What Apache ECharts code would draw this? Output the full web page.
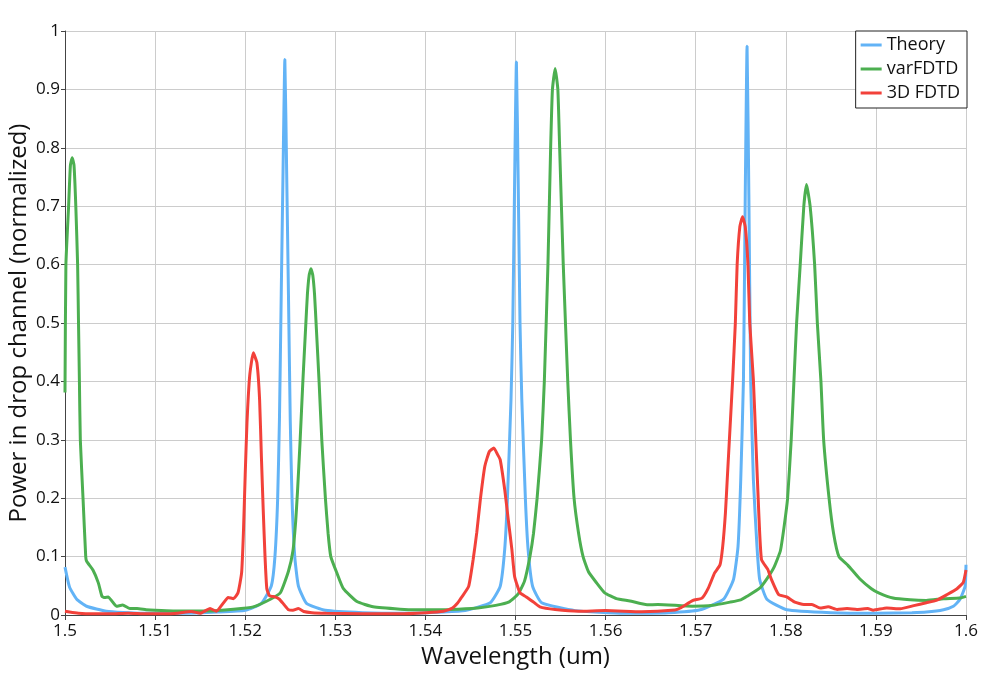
<!DOCTYPE html>
<html>
<head>
<meta charset="utf-8">
<script src="https://cdn.jsdelivr.net/npm/echarts@6/dist/echarts.min.js"></script>
<style>
html, body { margin: 0; padding: 0; background: #fff; }
#main { width: 985px; height: 675px; }
</style>
</head>
<body>
<div id="main"></div>
<script>
// 图例名称
var seriesNames = ['Theory', 'varFDTD', '3D FDTD'];

// 波长范围 (um)
var xMin = 1.5, xMax = 1.6, xStep = 0.01;
var yMin = 0, yMax = 1, yStep = 0.1;

// Theory: [wavelength, power]
var theoryData = [
    [1.5000, 0.082], [1.5005, 0.048], [1.5013, 0.027], [1.5024, 0.015], [1.5046, 0.0065],
    [1.5083, 0.003], [1.5130, 0.003], [1.5170, 0.005], [1.5200, 0.008], [1.5218, 0.020],
    [1.5229, 0.050], [1.5233, 0.100], [1.5236, 0.198], [1.5238, 0.334], [1.5240, 0.550],
    [1.5242, 0.760], [1.5244, 0.951], [1.5246, 0.760], [1.5248, 0.550], [1.5250, 0.334],
    [1.5252, 0.198], [1.5255, 0.100], [1.5259, 0.050], [1.5268, 0.020], [1.5289, 0.008],
    [1.5330, 0.004], [1.5380, 0.003], [1.5420, 0.005], [1.5444, 0.0075], [1.5472, 0.021],
    [1.5483, 0.049], [1.5488, 0.112], [1.5491, 0.198], [1.5495, 0.369], [1.5497, 0.500],
    [1.5499, 0.740], [1.5501, 0.947], [1.5503, 0.740], [1.5505, 0.500], [1.5507, 0.369],
    [1.5511, 0.198], [1.5514, 0.112], [1.5519, 0.049], [1.5529, 0.021], [1.5566, 0.0075],
    [1.5620, 0.003], [1.5670, 0.004], [1.5705, 0.009], [1.5731, 0.027], [1.5742, 0.061],
    [1.5747, 0.118], [1.5750, 0.232], [1.5753, 0.403], [1.5755, 0.720], [1.5757, 0.974],
    [1.5759, 0.720], [1.5761, 0.403], [1.5764, 0.232], [1.5768, 0.118], [1.5771, 0.061],
    [1.5779, 0.027], [1.5801, 0.009], [1.5850, 0.004], [1.5900, 0.003], [1.5940, 0.004],
    [1.5956, 0.005], [1.5975, 0.009], [1.5986, 0.015], [1.5993, 0.026], [1.5999, 0.049],
    [1.6000, 0.086]
];

// varFDTD
var varFdtdData = [
    [1.5000, 0.381], [1.5001, 0.600], [1.5004, 0.700], [1.5006, 0.770], [1.5008, 0.783],
    [1.5010, 0.770], [1.5012, 0.700], [1.5014, 0.600], [1.5015, 0.500], [1.5016, 0.400],
    [1.5017, 0.300], [1.5020, 0.200], [1.5023, 0.100], [1.5024, 0.092], [1.5031, 0.077],
    [1.5037, 0.055], [1.5041, 0.032], [1.5044, 0.030], [1.5048, 0.031], [1.5052, 0.024],
    [1.5057, 0.015], [1.5064, 0.017], [1.5072, 0.011], [1.5080, 0.011], [1.5090, 0.009],
    [1.5100, 0.008], [1.5120, 0.007], [1.5140, 0.007], [1.5160, 0.007], [1.5187, 0.010],
    [1.5209, 0.014], [1.5228, 0.027], [1.5239, 0.038], [1.5248, 0.075], [1.5253, 0.110],
    [1.5256, 0.160], [1.5258, 0.210], [1.5261, 0.300], [1.5264, 0.400], [1.5267, 0.490],
    [1.5269, 0.548], [1.5271, 0.582], [1.5273, 0.593], [1.5275, 0.582], [1.5277, 0.548],
    [1.5279, 0.490], [1.5282, 0.400], [1.5285, 0.300], [1.5289, 0.200], [1.5292, 0.140],
    [1.5295, 0.100], [1.5302, 0.071], [1.5309, 0.045], [1.5324, 0.023],
    [1.5342, 0.014], [1.5372, 0.010], [1.5390, 0.009], [1.5428, 0.0095], [1.5458, 0.012],
    [1.5478, 0.0165], [1.5493, 0.0225], [1.5503, 0.036], [1.5510, 0.058], [1.5516, 0.100],
    [1.5520, 0.140], [1.5524, 0.200], [1.5529, 0.300], [1.5532, 0.400], [1.5536, 0.600],
    [1.5539, 0.800], [1.5541, 0.900], [1.5544, 0.936], [1.5547, 0.900], [1.5549, 0.800],
    [1.5553, 0.600], [1.5558, 0.400], [1.5561, 0.300], [1.5565, 0.200], [1.5570, 0.140],
    [1.5575, 0.100], [1.5581, 0.074],
    [1.5590, 0.055], [1.5599, 0.038], [1.5612, 0.028], [1.5627, 0.024], [1.5646, 0.0175],
    [1.5658, 0.018], [1.5696, 0.015], [1.5719, 0.0165], [1.5738, 0.022], [1.5750, 0.026],
    [1.5757, 0.032], [1.5771, 0.046], [1.5779, 0.062], [1.5787, 0.082], [1.5794, 0.110],
    [1.5798, 0.150], [1.5802, 0.200], [1.5806, 0.300], [1.5809, 0.400], [1.5812, 0.500],
    [1.5816, 0.600], [1.5820, 0.700], [1.5823, 0.737], [1.5827, 0.700], [1.5832, 0.600],
    [1.5835, 0.500], [1.5839, 0.400], [1.5842, 0.300], [1.5848, 0.200], [1.5853, 0.140],
    [1.5859, 0.100], [1.5869, 0.085], [1.5882, 0.062],
    [1.5895, 0.045], [1.5903, 0.038], [1.5919, 0.029], [1.5938, 0.026], [1.5956, 0.025],
    [1.5975, 0.028], [1.5993, 0.029], [1.6000, 0.032]
];

// 3D FDTD
var fdtd3dData = [
    [1.5000, 0.0065], [1.5005, 0.005], [1.5015, 0.003], [1.5030, 0.002], [1.5050, 0.002],
    [1.5070, 0.003], [1.5090, 0.002], [1.5110, 0.002], [1.5125, 0.003], [1.5140, 0.006],
    [1.5150, 0.003], [1.5161, 0.011], [1.5168, 0.0065], [1.5176, 0.021], [1.5181, 0.030],
    [1.5187, 0.028], [1.5192, 0.038], [1.5196, 0.072], [1.5198, 0.140], [1.5200, 0.240],
    [1.5202, 0.330], [1.5205, 0.410], [1.5209, 0.449], [1.5213, 0.432], [1.5216, 0.368],
    [1.5218, 0.270], [1.5220, 0.180], [1.5222, 0.100], [1.5224, 0.045], [1.5227, 0.033],
    [1.5233, 0.031], [1.5238, 0.027], [1.5243, 0.018], [1.5248, 0.009], [1.5253, 0.008],
    [1.5259, 0.011], [1.5265, 0.006], [1.5274, 0.004], [1.5290, 0.003], [1.5330, 0.002],
    [1.5370, 0.002], [1.5401, 0.004], [1.5420, 0.0065], [1.5430, 0.012], [1.5436, 0.021],
    [1.5440, 0.030], [1.5448, 0.049], [1.5453, 0.095], [1.5457, 0.141], [1.5461, 0.198],
    [1.5466, 0.255], [1.5471, 0.280], [1.5476, 0.286], [1.5480, 0.275], [1.5483, 0.266],
    [1.5488, 0.215], [1.5492, 0.163], [1.5496, 0.112], [1.5499, 0.066], [1.5505, 0.038],
    [1.5512, 0.031], [1.5520, 0.022], [1.5527, 0.014], [1.5544, 0.0094], [1.5570, 0.0065],
    [1.5600, 0.0075], [1.5640, 0.0055], [1.5677, 0.0085], [1.5683, 0.012], [1.5697, 0.025],
    [1.5707, 0.029], [1.5714, 0.046], [1.5721, 0.072], [1.5727, 0.086], [1.5730, 0.118],
    [1.5733, 0.175], [1.5735, 0.232], [1.5737, 0.289], [1.5739, 0.346], [1.5741, 0.403],
    [1.5744, 0.500], [1.5746, 0.600], [1.5749, 0.665], [1.5752, 0.682], [1.5755, 0.665],
    [1.5758, 0.600], [1.5760, 0.500], [1.5764, 0.403], [1.5767, 0.289], [1.5770, 0.175],
    [1.5773, 0.095], [1.5780, 0.078], [1.5784, 0.061], [1.5792, 0.035], [1.5801, 0.031],
    [1.5810, 0.022], [1.5820, 0.018], [1.5829, 0.018], [1.5838, 0.012], [1.5847, 0.014],
    [1.5857, 0.0094], [1.5868, 0.011], [1.5879, 0.0094], [1.5891, 0.011], [1.5897, 0.0083],
    [1.5912, 0.012], [1.5927, 0.0106], [1.5942, 0.016], [1.5956, 0.021], [1.5967, 0.025],
    [1.5979, 0.035], [1.5990, 0.045], [1.5997, 0.056], [1.6000, 0.077]
];

var seriesColors = ['#62b3f6', '#4caf50', '#f2413a'];

var main = document.getElementById('main');
var chart = echarts.init(main);

function makeLine(name, data, color) {
    return {
        name: name,
        type: 'line',
        data: data,
        showSymbol: false,
        smooth: 0.15,
        lineStyle: { color: color, width: 3 },
        itemStyle: { color: color }
    };
}

var option = {
    animation: false,
    backgroundColor: '#fff',
    textStyle: { fontFamily: 'Open Sans' },
    grid: { left: 65, right: 19, top: 31, bottom: 60, containLabel: false, outerBoundsMode: 'none' },
    legend: {
        orient: 'vertical',
        right: 18,
        top: 31,
        backgroundColor: '#fff',
        borderColor: '#222',
        borderWidth: 1,
        borderRadius: 0,
        padding: [2, 7, 3, 5],
        itemGap: 0,
        itemWidth: 21,
        itemHeight: 3,
        icon: 'rect',
        textStyle: { fontSize: 18, color: '#111', lineHeight: 24, fontFamily: 'Open Sans' },
        data: seriesNames
    },
    xAxis: {
        type: 'value',
        min: xMin,
        max: xMax,
        interval: xStep,
        name: 'Wavelength (um)',
        nameLocation: 'middle',
        nameGap: 29,
        nameTextStyle: { fontSize: 24, color: '#111' },
        axisLine: { lineStyle: { color: '#444', width: 1 } },
        axisTick: { length: 5, lineStyle: { color: '#444' } },
        axisLabel: {
            fontSize: 17, color: '#111', margin: 8,
            formatter: function (v) { return String(+v.toFixed(2)); }
        },
        splitLine: { show: true, lineStyle: { color: '#ccc', width: 1 } }
    },
    yAxis: {
        type: 'value',
        min: yMin,
        max: yMax,
        interval: yStep,
        name: 'Power in drop channel (normalized)',
        nameLocation: 'middle',
        nameGap: 34,
        nameMoveOverlap: false,
        nameTextStyle: { fontSize: 24, color: '#111' },
        axisLine: { show: true, lineStyle: { color: '#444', width: 1 } },
        axisTick: { show: true, length: 4, lineStyle: { color: '#444' } },
        axisLabel: {
            fontSize: 17, color: '#111', margin: 5,
            formatter: function (v) { return String(+v.toFixed(1)); }
        },
        splitLine: { show: true, lineStyle: { color: '#ccc', width: 1 } }
    },
    series: [
        makeLine(seriesNames[0], theoryData, seriesColors[0]),
        makeLine(seriesNames[1], varFdtdData, seriesColors[1]),
        makeLine(seriesNames[2], fdtd3dData, seriesColors[2])
    ]
};

chart.setOption(option);
</script>
</body>
</html>
